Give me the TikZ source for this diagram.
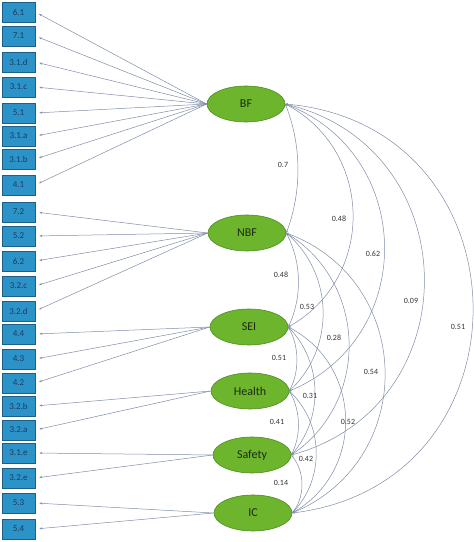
\documentclass[tikz,border=0pt]{standalone}
\usepackage{fontspec}
\setmainfont{Carlito}
\usetikzlibrary{shapes.geometric,arrows.meta}
\definecolor{boxfill}{HTML}{2B93C8}
\definecolor{boxdraw}{HTML}{1F5F86}
\definecolor{boxtext}{HTML}{1F3A60}
\definecolor{ellfill}{HTML}{6CB52D}
\definecolor{elldraw}{HTML}{4E8A22}
\definecolor{elltext}{HTML}{1C2A10}
\definecolor{linec}{HTML}{7F8CA6}
\definecolor{labc}{HTML}{333333}
\tikzset{
  box/.style={rectangle, draw=boxdraw, fill=boxfill, line width=0.6pt, minimum width=33pt, minimum height=20pt, inner sep=0pt, font=\fontsize{9}{10}\selectfont, text=boxtext},
  factor/.style={ellipse, draw=elldraw, fill=ellfill, line width=0.6pt, minimum width=78pt, minimum height=36pt, inner sep=0pt, font=\fontsize{12}{14}\selectfont, text=elltext},
  load/.style={draw=linec, line width=0.5pt, shorten >=4pt, -{Stealth[length=3pt,width=2.2pt]}},
  cov/.style={draw=linec, line width=0.5pt, {Stealth[length=2.5pt,width=2pt]}-{Stealth[length=2.5pt,width=2pt]}},
  val/.style={font=\fontsize{8}{9}\selectfont, text=labc, inner sep=1pt}
}
\begin{document}
\begin{tikzpicture}[x=1pt,y=1pt]
\useasboundingbox (0,0) rectangle (474,542);
% indicator boxes
\node[box] (b61) at (18.5,530) {6.1};
\node[box] (b71) at (18.5,506) {7.1};
\node[box] (b31d) at (18.5,480) {3.1.d};
\node[box] (b31c) at (18.5,455) {3.1.c};
\node[box] (b51) at (18.5,429) {5.1};
\node[box] (b31a) at (18.5,406) {3.1.a};
\node[box] (b31b) at (18.5,383) {3.1.b};
\node[box] (b41) at (18.5,357) {4.1};
\node[box] (b72) at (18.5,330) {7.2};
\node[box] (b52) at (18.5,306) {5.2};
\node[box] (b62) at (18.5,281) {6.2};
\node[box] (b32c) at (18.5,256) {3.2.c};
\node[box] (b32d) at (18.5,231) {3.2.d};
\node[box] (b44) at (18.5,208) {4.4};
\node[box] (b43) at (18.5,183) {4.3};
\node[box] (b42) at (18.5,159) {4.2};
\node[box] (b32b) at (18.5,136) {3.2.b};
\node[box] (b32a) at (18.5,112) {3.2.a};
\node[box] (b31e) at (18.5,89) {3.1.e};
\node[box] (b32e) at (18.5,64) {3.2.e};
\node[box] (b53) at (18.5,39) {5.3};
\node[box] (b54) at (18.5,13) {5.4};
% factors
\node[factor] (BF) at (246,438) {BF};
\node[factor] (NBF) at (247,309) {NBF};
\node[factor] (SEI) at (249,215) {SEI};
\node[factor] (HE) at (250,151) {Health};
\node[factor] (SA) at (252,87) {Safety};
\node[factor] (IC) at (253,29) {IC};
% loadings
\foreach \b in {b61,b71,b31d,b31c,b51,b31a,b31b,b41} \draw[load] (BF.west) -- (\b.east);
\foreach \b in {b72,b52,b62,b32c,b32d} \draw[load] (NBF.west) -- (\b.east);
\foreach \b in {b44,b43,b42} \draw[load] (SEI.west) -- (\b.east);
\foreach \b in {b32b,b32a} \draw[load] (HE.west) -- (\b.east);
\foreach \b in {b31e,b32e} \draw[load] (SA.west) -- (\b.east);
\foreach \b in {b53,b54} \draw[load] (IC.west) -- (\b.east);
% covariances
\draw[cov] (BF.east) to[bend left=21.1, looseness=0.88] (NBF.east);
\draw[cov] (BF.east) to[bend left=61.2, looseness=1.15] (SEI.east);
\draw[cov] (BF.east) to[bend left=68.1, looseness=1.24] (HE.east);
\draw[cov] (BF.east) to[bend left=75.6, looseness=1.36] (SA.east);
\draw[cov] (BF.east) to[bend left=84.0, looseness=1.54] (IC.east);
\draw[cov] (NBF.east) to[bend left=26.3, looseness=0.90] (SEI.east);
\draw[cov] (NBF.east) to[bend left=47.8, looseness=1.02] (HE.east);
\draw[cov] (NBF.east) to[bend left=56.8, looseness=1.10] (SA.east);
\draw[cov] (NBF.east) to[bend left=68.3, looseness=1.25] (IC.east);
\draw[cov] (SEI.east) to[bend left=28.1, looseness=0.90] (HE.east);
\draw[cov] (SEI.east) to[bend left=42.6, looseness=0.98] (SA.east);
\draw[cov] (SEI.east) to[bend left=61.2, looseness=1.15] (IC.east);
\draw[cov] (HE.east) to[bend left=28.1, looseness=0.90] (SA.east);
\draw[cov] (HE.east) to[bend left=44.6, looseness=1.00] (IC.east);
\draw[cov] (SA.east) to[bend left=38.0, looseness=0.95] (IC.east);
% values
\node[val] (v1) at (283,377) {0.7};
\node[val] (v2) at (339,323) {0.48};
\node[val] (v3) at (373,288) {0.62};
\node[val] (v4) at (411,241) {0.09};
\node[val] (v5) at (458,215) {0.51};
\node[val] (v6) at (281,267) {0.48};
\node[val] (v7) at (307,235) {0.53};
\node[val] (v8) at (334,204) {0.28};
\node[val] (v9) at (371,170) {0.54};
\node[val] (v10) at (279,184) {0.51};
\node[val] (v11) at (310,146) {0.31};
\node[val] (v12) at (277,120) {0.41};
\node[val] (v13) at (348,120) {0.52};
\node[val] (v14) at (306,83) {0.42};
\node[val] (v15) at (281,59) {0.14};
\end{tikzpicture}
\end{document}
